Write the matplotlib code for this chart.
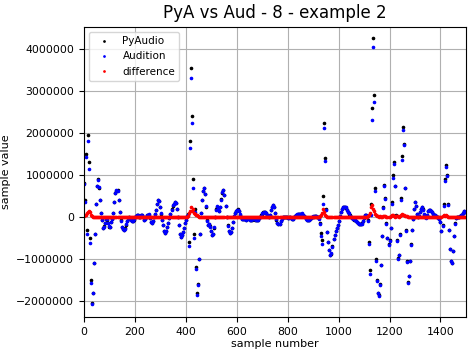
import numpy as np
import matplotlib
matplotlib.use("Agg")
import matplotlib.pyplot as plt

# sample values (in thousands), one every 4 samples
sample_step = 4
pyaudio_k = [
    800, 400, 1500, -300, 1950, 1300, -500, -1500, -2050, -1800,
    -1100, -400, 300, 750, 900, 700, 400, 100, -70, -260,
    -220, -150, -40, -60, -150, -230, -230, -120, -50, 100,
    350, 570, 630, 640, 400, 120, -80, -230, -290, -310,
    -270, -180, -90, -20, 0, -40, -70, -90, -100, -60,
    0, 30, 40, 50, 10, -10, 40, 50, 0, -70,
    -40, 0, 40, 60, 60, -20, -120, -150, -100, -10,
    80, 170, 300, 400, 380, 250, 80, -70, -200, -330,
    -380, -330, -240, -130, -20, 80, 180, 270, 320, 360,
    340, 200, 0, -200, -400, -470, -430, -360, -260, -150,
    -70, 30, 80, -600, 1800, 3550, 2400, 900, -400, 200,
    -1200, -1800, -1600, -1000, -400, 100, 400, 620, 690, 560,
    250, -80, -200, -160, -220, -330, -420, -400, -250, 0,
    180, 250, 200, 150, 230, 420, 580, 640, 520, 260,
    0, -200, -330, -380, -360, -260, -120, 20, 100, 150,
    170, 180, 140, 60, 0, -40, -50, -40, -50, -60,
    -50, -30, -40, -60, -70, -60, -40, -50, -60, -70,
    -70, -60, -30, 0, 40, 80, 110, 120, 120, 100,
    60, 20, -10, 60, 160, 240, 280, 250, 100, -60,
    -150, -170, -160, -100, -30, 0, 10, 0, 0, -10,
    -20, -10, 0, -20, -40, -40, -10, 30, 50, 60,
    70, 80, 80, 80, 80, 60, 30, 0, -30, -60,
    -70, -70, -50, -20, 0, 10, 20, 20, 20, 10,
    0, -30, -150, -380, -550, 500, 2250, 1400, 200, -350,
    -600, -780, -900, -870, -700, -520, -420, -330, -270, -200,
    -100, 20, 120, 190, 230, 250, 250, 220, 170, 120,
    80, 40, 0, -20, -40, -60, -80, -100, -120, -140,
    -160, -170, -170, -150, -100, -20, 40, 60, 0, -80,
    -600, -1250, 300, 2600, 4260, 2900, 700, -1000, -1500, -1800,
    -1860, -1600, -1150, -450, 250, 760, 450, -150, -500, -650,
    -550, -250, 350, 1000, 1300, 750, 50, -550, -980, -900,
    -400, 450, 1450, 2140, 1750, 700, -300, -1050, -1550, -1400,
    -1050, -650, -320, -50, 200, 360, 260, 80, 0, 30,
    120, 200, 240, 180, 60, 0, -10, 50, 140, 160,
    160, 150, 120, 80, 50, 40, 20, 0, -10, -40,
    -120, -330, -200, 300, 900, 1230, 1000, 300, -300, -750,
    -1050, -1100, -800, -450, -150, -30, 0, 0, 0, 20,
    50, 60, 100, 150, 130,
]

difference_k = [
    20, 40, 60, 100, 130, 150, 120, 60, 30, 10,
    -5, 8, -5, 5, 10, -5, 5, -8, 5, 0,
    5, -5, 8, -3, 3, -8, 5, 0, -5, 3,
    -3, 5, -5, 8, 0, -5, 3, 5, -8, 3,
    5, -3, 0, 8, -5, 3, -5, 5, 3, -8,
    0, 5, -5, 3, 8, -3, -5, 5, 0, -5,
    8, -5, 3, 0, -8, 5, 3, -3, 5, -5,
    -3, 8, 0, -5, 5, 3, -8, 5, -3, 0,
    5, -5, 8, 3, -5, 0, 5, -8, 3, 5,
    -3, 0, 5, -5, 8, -3, 3, -5, 5, 0,
    5, -5, 20, 100, 150, 240, 150, 200, 100, 80,
    40, 60, 20, 10, -5, 5, 0, -5, 5, 3,
    -5, 8, 0, -3, 5, -8, 3, 5, -5, 0,
    8, -3, 5, -5, 0, 3, -8, 5, 3, -5,
    0, 5, -5, 8, -3, 0, 5, -5, 3, 8,
    -5, 3, 0, -8, 5, -3, 5, 0, -5, 3,
    5, -5, 3, 8, -3, -5, 0, 5, -8, 3,
    -3, 5, -5, 0, 8, -5, 3, 5, -3, 0,
    5, -3, -5, 8, 0, 3, -8, 5, 0, -5,
    3, 5, -5, 0, 8, -3, 5, -5, 3, 0,
    -5, 8, 3, -3, 0, 5, -8, 3, 5, -5,
    0, 5, -3, 8, -5, 3, 0, -5, 5, 3,
    -8, 5, 0, -3, 5, -5, 8, 0, -3, 5,
    0, 5, 20, 60, 100, 200, 120, 60, 30, 10,
    -5, 8, 0, -3, 5, -5, 3, 8, -5, 0,
    5, -3, 8, -5, 0, 3, 5, -8, 3, 0,
    -5, 5, 3, -3, 8, -5, 0, 5, -3, 3,
    5, -5, 0, 8, -3, 3, -5, 5, 0, 20,
    50, 100, 250, 290, 200, 150, 80, 40, 30, 20,
    10, 20, 0, 10, 30, 30, 20, 10, 0, 10,
    10, 20, 50, 60, 30, 10, 20, 30, 20, 10,
    20, 40, 80, 60, 40, 20, 30, 20, 10, 10,
    0, 5, -5, 3, 8, -3, 0, 5, -5, 3,
    5, -3, 0, 8, -5, 3, 5, -5, 0, 3,
    -5, 5, 3, -3, 8, 0, -5, 5, 3, -3,
    0, 10, 20, 40, 30, 40, 20, 10, 10, 0,
    5, -5, 3, 0, 8, -3, 5, -5, 0, 3,
    -3, 5, 0, -5, 3,
]

pyaudio = np.array(pyaudio_k, dtype=float) * 1000
difference = np.array(difference_k, dtype=float) * 1000
audition = pyaudio - difference
samples = np.arange(len(pyaudio)) * sample_step

fig = plt.figure(figsize=(4.74, 3.53), dpi=100)
ax = fig.add_axes([0.177, 0.102, 0.806, 0.822])

ms = 3.2
ax.plot(samples, pyaudio, 'k.', markersize=ms, label='PyAudio')
ax.plot(samples, audition, 'b.', markersize=ms, label='Audition')
ax.plot(samples, difference, 'r.', markersize=ms, label='difference')

ax.set_xlim(0, 1500)
ax.set_ylim(-2380000, 4530000)
ax.set_yticks([-2000000, -1000000, 0, 1000000, 2000000, 3000000, 4000000])
ax.ticklabel_format(style='plain', axis='y', useOffset=False)
ax.tick_params(labelsize=7.8)
ax.grid(True)
ax.set_title('PyA vs Aud - 8 - example 2', fontsize=12)
ax.set_xlabel('sample number', fontsize=8, labelpad=2)
ax.set_ylabel('sample value', fontsize=8)
ax.legend(loc='upper left', fontsize=7.5, markerscale=0.6)

fig.savefig('out.png', dpi=100)
